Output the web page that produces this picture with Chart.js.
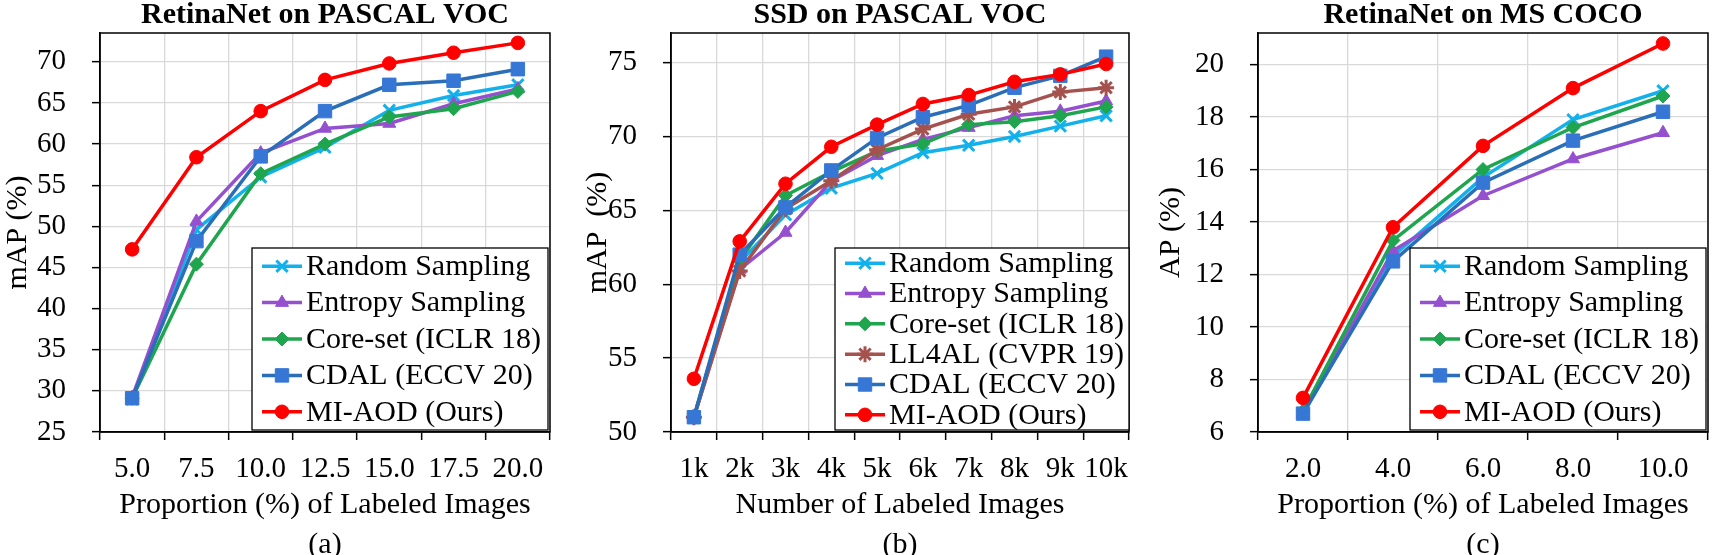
<!DOCTYPE html>
<html>
<head>
<meta charset="utf-8">
<script src="https://cdn.jsdelivr.net/npm/chart.js@4/dist/chart.umd.min.js"></script>
<style>
  html, body { margin: 0; padding: 0; background: #fff; }
  #wrap { position: relative; width: 1719px; height: 555px; overflow: hidden; }
  .panel { position: absolute; top: 0; height: 555px; }
</style>
</head>
<body>
<div id="wrap">
  <div class="panel" style="left:0px;width:561px"><canvas id="chartA"></canvas></div>
  <div class="panel" style="left:580px;width:560px"><canvas id="chartB"></canvas></div>
  <div class="panel" style="left:1153px;width:566px"><canvas id="chartC"></canvas></div>
</div>
<script>
// (a) RetinaNet on PASCAL VOC
const labelsA = ['5.0', '7.5', '10.0', '12.5', '15.0', '17.5', '20.0'];
const randomA  = [29.0, 49.6, 56.0, 59.6, 64.1, 65.9, 67.2];
const entropyA = [29.2, 50.6, 58.9, 61.9, 62.5, 64.9, 66.7];
const coresetA = [29.1, 45.4, 56.4, 60.0, 63.3, 64.3, 66.4];
const cdalA    = [29.1, 48.2, 58.5, 64.0, 67.2, 67.7, 69.1];
const miaodA   = [47.2, 58.4, 64.0, 67.8, 69.8, 71.1, 72.3];

// (b) SSD on PASCAL VOC
const labelsB = ['1k', '2k', '3k', '4k', '5k', '6k', '7k', '8k', '9k', '10k'];
const randomB  = [51.0, 61.5, 64.7, 66.5, 67.5, 68.9, 69.4, 70.0, 70.7, 71.4];
const entropyB = [51.0, 61.0, 63.5, 67.0, 68.7, 69.8, 70.6, 71.4, 71.7, 72.4];
const coresetB = [51.0, 61.6, 66.0, 67.6, 69.0, 69.5, 70.8, 71.0, 71.4, 72.0];
const ll4alB   = [51.0, 60.9, 65.1, 67.0, 69.1, 70.5, 71.5, 72.0, 73.0, 73.3];
const cdalB    = [51.0, 62.0, 65.2, 67.7, 69.9, 71.3, 72.1, 73.3, 74.1, 75.4];
const miaodB   = [53.6, 62.9, 66.8, 69.3, 70.8, 72.2, 72.8, 73.7, 74.2, 74.9];

// (c) RetinaNet on MS COCO
const labelsC = ['2.0', '4.0', '6.0', '8.0', '10.0'];
const randomC  = [6.7, 12.7, 15.7, 17.9, 19.0];
const entropyC = [6.7, 12.9, 15.0, 16.4, 17.4];
const coresetC = [6.8, 13.3, 16.0, 17.6, 18.8];
const cdalC    = [6.7, 12.5, 15.5, 17.1, 18.2];
const miaodC   = [7.3, 13.8, 16.9, 19.1, 20.8];

// series look, shared by all three panels
const styles = {
  random:  { label: 'Random Sampling',    color: '#13B1EC', point: '#13B1EC', shape: 'crossRot', r: 8,   bw: 3 },
  entropy: { label: 'Entropy Sampling',   color: '#9550CF', point: '#9550CF', shape: 'triangle', r: 7.5, bw: 1 },
  coreset: { label: 'Core-set (ICLR 18)', color: '#1FA54E', point: '#1FA54E', shape: 'rectRot',  r: 7,   bw: 1 },
  ll4al:   { label: 'LL4AL (CVPR 19)',    color: '#A5524E', point: '#A5524E', shape: 'star',     r: 8,   bw: 3 },
  cdal:    { label: 'CDAL (ECCV 20)',     color: '#2A6EB8', point: '#3677D6', shape: 'rect',     r: 9.5, bw: 1 },
  miaod:   { label: 'MI-AOD (Ours)',      color: '#FF0000', point: '#FF0000', shape: 'circle',   r: 6.8, bw: 1 }
};

Chart.defaults.font.family = '"Liberation Serif", "Times New Roman", serif';
Chart.defaults.color = '#000';

function makeSets(list) {
  return list.map(function (item, i) {
    const s = styles[item[0]];
    return {
      label: s.label,
      data: item[1],
      borderColor: s.color,
      backgroundColor: s.point,
      borderWidth: 3.5,
      pointStyle: s.shape,
      pointRadius: s.r,
      pointHoverRadius: s.r,
      pointBackgroundColor: s.point,
      pointBorderColor: s.point,
      pointBorderWidth: s.bw,
      tension: 0,
      order: list.length - i
    };
  });
}

// plot frame + legend box inside the plot area
const frameLegend = {
  id: 'frameLegend',
  afterDraw(chart, args, opts) {
    const ctx = chart.ctx, a = chart.chartArea;
    ctx.save();
    ctx.strokeStyle = '#000';
    ctx.lineWidth = 1.5;
    ctx.strokeRect(a.left, a.top, a.right - a.left, a.bottom - a.top);

    const w = opts.width, h = opts.height;
    const x = a.right - opts.right - w;
    const y = a.bottom - opts.bottom - h;
    ctx.fillStyle = '#fff';
    ctx.fillRect(x, y, w, h);
    ctx.lineWidth = 1.3;
    ctx.strokeRect(x, y, w, h);

    const sets = chart.data.datasets;
    const rowH = h / sets.length;
    sets.forEach(function (ds, i) {
      const cy = y + rowH * (i + 0.5);
      ctx.strokeStyle = ds.borderColor;
      ctx.lineWidth = ds.borderWidth;
      ctx.beginPath();
      ctx.moveTo(x + 10, cy);
      ctx.lineTo(x + 50, cy);
      ctx.stroke();
      ctx.fillStyle = ds.pointBackgroundColor;
      ctx.strokeStyle = ds.pointBorderColor;
      ctx.lineWidth = ds.pointBorderWidth;
      Chart.helpers.drawPoint(ctx, {
        pointStyle: ds.pointStyle, radius: ds.pointRadius,
        borderWidth: ds.pointBorderWidth, rotation: 0
      }, x + 30, cy);
      ctx.fillStyle = '#000';
      ctx.font = '30px "Liberation Serif", "Times New Roman", serif';
      ctx.textBaseline = 'middle';
      ctx.textAlign = 'left';
      ctx.fillText(ds.label, x + 54, cy + 1);
    });
    ctx.restore();
  }
};

function noPad(s) {
  s.paddingLeft = 0;
  s.paddingRight = 0;
  s.paddingTop = 0;
  s.paddingBottom = 0;
}

function makeChart(id, cfg) {
  new Chart(document.getElementById(id), {
    type: 'line',
    data: { labels: cfg.labels, datasets: makeSets(cfg.series) },
    plugins: [frameLegend],
    options: {
      responsive: true,
      maintainAspectRatio: false,
      animation: false,
      layout: { padding: { left: 0, right: cfg.padRight, top: 0, bottom: 0 } },
      plugins: {
        legend: { display: false },
        tooltip: { enabled: false },
        title: {
          display: true, text: cfg.title, fullSize: false, color: '#000',
          font: { size: 30, weight: 'bold', lineHeight: 1 },
          padding: { top: 0, bottom: 3 }
        },
        frameLegend: cfg.legend
      },
      scales: {
        x: {
          type: 'category',
          offset: true,
          grid: { offset: true, color: '#d9d9d9', lineWidth: 1.3, tickLength: 8, tickColor: '#000', tickWidth: 1.5 },
          border: { color: '#000', width: 1.5 },
          ticks: { font: { size: 29 }, color: '#000', padding: 12, maxRotation: 0, autoSkip: false },
          title: {
            display: true, text: [cfg.xTitle, cfg.tag], color: '#000',
            font: { size: 30, lineHeight: 1.33 }, padding: { top: 0, bottom: -10 }
          },
          afterFit: function (s) { s.height = 123; noPad(s); }
        },
        y: {
          min: cfg.yMin, max: cfg.yMax,
          grid: { color: '#d9d9d9', lineWidth: 1.3, tickLength: 8, tickColor: '#000', tickWidth: 1.5 },
          border: { color: '#000', width: 1.5 },
          ticks: { stepSize: cfg.step, includeBounds: false, font: { size: 29 }, color: '#000', padding: 26 },
          title: { display: true, text: cfg.yTitle, color: '#000', font: { size: 30, lineHeight: 1.2 }, padding: 0 },
          afterFit: function (s) { s.width = cfg.yWidth; noPad(s); }
        }
      }
    }
  });
}

makeChart('chartA', {
  labels: labelsA,
  series: [['random', randomA], ['entropy', entropyA], ['coreset', coresetA], ['cdal', cdalA], ['miaod', miaodA]],
  title: 'RetinaNet on PASCAL VOC', yTitle: 'mAP (%)',
  xTitle: 'Proportion (%) of Labeled Images', tag: '(a)',
  yMin: 25, yMax: 73.5, step: 5, yWidth: 100, padRight: 5,
  legend: { width: 296, height: 182, right: 2, bottom: 2 }
});

makeChart('chartB', {
  labels: labelsB,
  series: [['random', randomB], ['entropy', entropyB], ['coreset', coresetB], ['ll4al', ll4alB], ['cdal', cdalB], ['miaod', miaodB]],
  title: 'SSD on PASCAL VOC', yTitle: 'mAP  (%)',
  xTitle: 'Number of Labeled Images', tag: '(b)',
  yMin: 50, yMax: 77, step: 5, yWidth: 91, padRight: 3,
  legend: { width: 294, height: 182, right: 0, bottom: 2 }
});

makeChart('chartC', {
  labels: labelsC,
  series: [['random', randomC], ['entropy', entropyC], ['coreset', coresetC], ['cdal', cdalC], ['miaod', miaodC]],
  title: 'RetinaNet on MS COCO', yTitle: 'AP (%)',
  xTitle: 'Proportion (%) of Labeled Images', tag: '(c)',
  yMin: 6, yMax: 21.2, step: 2, yWidth: 105, padRight: 5,
  legend: { width: 296, height: 182, right: 2, bottom: 2 }
});
</script>
</body>
</html>
